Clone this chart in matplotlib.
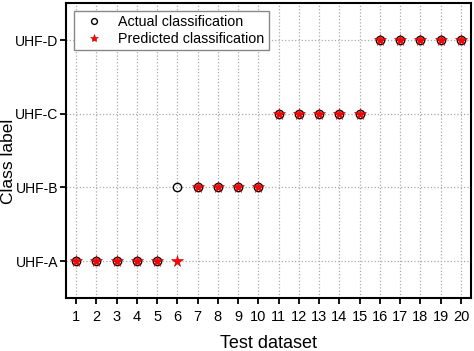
import matplotlib.pyplot as plt
import numpy as np

plt.rcParams['font.family'] = ['Liberation Sans', 'DejaVu Sans']

test_idx = list(range(1, 21))
actual = [1, 1, 1, 1, 1, 2, 2, 2, 2, 2, 3, 3, 3, 3, 3, 4, 4, 4, 4, 4]
predicted = [1, 1, 1, 1, 1, 1, 2, 2, 2, 2, 3, 3, 3, 3, 3, 4, 4, 4, 4, 4]
class_names = ['UHF-A', 'UHF-B', 'UHF-C', 'UHF-D']

fig = plt.figure(figsize=(4.74, 3.51), dpi=100)
ax = fig.add_axes([0.139, 0.151, 0.855, 0.840])

ax.plot(test_idx, actual, 'o', mfc='none', mec='black', ms=6, mew=1.0,
        label='Actual classification', zorder=3)
ax.plot(test_idx, predicted, '*', color='red', mec='#c00000', ms=8.5, mew=0.4,
        label='Predicted classification', zorder=4)

ax.set_xlim(0.5, 20.5)
ax.set_ylim(0.5, 4.5)
ax.set_xticks(test_idx)
ax.set_yticks([1, 2, 3, 4])
ax.set_yticklabels(class_names)
ax.grid(True, linestyle=':', color='#aaaaaa', linewidth=0.9)
ax.set_axisbelow(True)
ax.tick_params(direction='out', length=4.5, width=1.3, labelsize=10.5, colors='black')
ax.tick_params(axis='y', labelsize=10, pad=1)
ax.tick_params(axis='x', pad=4)
for s in ax.spines.values():
    s.set_linewidth(1.5)

ax.set_xlabel('Test dataset', fontsize=13, labelpad=8)
ax.set_ylabel('Class label', fontsize=12.5)
ax.yaxis.set_label_coords(-0.122, 0.464)

leg = ax.legend(loc='upper left', fontsize=10.3, fancybox=False, framealpha=1,
                edgecolor='#888888', handletextpad=0.6, borderaxespad=0.55,
                labelspacing=0.2, markerscale=0.7, borderpad=0.3,
                handlelength=2.2)

fig.savefig('out.png', dpi=100)
